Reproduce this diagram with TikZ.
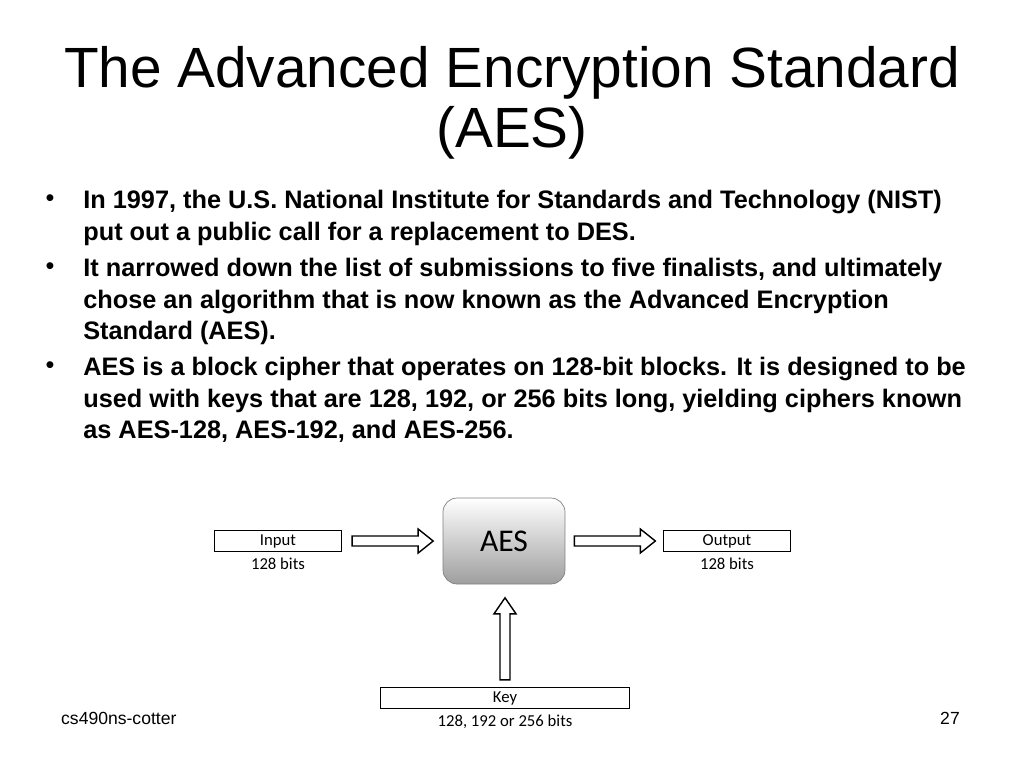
\documentclass[tikz,border=0pt]{standalone}
\usepackage{fontspec}
\setmainfont{Liberation Sans}
\newfontfamily\diafont{Carlito}
\usetikzlibrary{positioning,calc}
\definecolor{aesgray}{rgb}{0.62,0.62,0.62}

\begin{document}
\begin{tikzpicture}[x=0.02cm,y=-0.02cm,
    databox/.style={draw,thick,minimum width=2.54cm,minimum height=0.42cm,inner sep=0pt,font=\diafont\fontsize{9.5}{10}\selectfont},
    note/.style={font=\diafont\fontsize{9.5}{10}\selectfont,inner sep=0pt},
    bline/.style={font=\bfseries\fontsize{14.4}{18}\selectfont,align=left,anchor=north west,inner sep=0pt},
    hollow/.style={draw,thick,fill=white}]
\useasboundingbox (0,0) rectangle (1024,768);
%Title
    \node[font=\fontsize{32.3}{34.5}\selectfont,align=center] (title) at (512,103) {The Advanced Encryption Standard\\(AES)};
%Bullets
    \node[bline] (b1) at (83,190) {In 1997, the U.S. National Institute for Standards and Technology (NIST)\\put out a public call for a replacement to DES.};
    \node[bline] (b2) at (83,258) {It narrowed down the list of submissions to five finalists, and ultimately\\chose an algorithm that is now known as the Advanced Encryption\\Standard (AES).};
    \node[bline] (b3) at (83,357) {AES is a block cipher that operates on 128-bit blocks. It is designed to be\\used with keys that are 128, 192, or 256 bits long, yielding ciphers known\\as AES-128, AES-192, and AES-256.};
    \foreach \y in {201,269,368}
        \node[font=\fontsize{14.4}{15}\selectfont] at (50,\y) {•};
%Diagram
    \node[databox] (in) at (278,541) {Input};
    \node[note,below=3pt of in] (inbits) {128 bits};
    \node[databox] (out) at (727,541) {Output};
    \node[note,below=3pt of out] (outbits) {128 bits};
    \node[databox,minimum width=4.98cm] (key) at (505,698) {Key};
    \node[note,below=3pt of key] (keybits) {128, 192 or 256 bits};
    \node[draw=gray,rounded corners=8pt,top color=white,bottom color=aesgray,
          minimum width=2.44cm,minimum height=1.72cm,font=\diafont\fontsize{18}{19}\selectfont] (aes) at (504,541) {AES};
%Arrows
    \draw[hollow] ($(in.east)+(10,-5)$) -- ++(66,0) -- ++(0,-7) -- ++(15,12) -- ++(-15,12) -- ++(0,-7) -- ++(-66,0) -- cycle;
    \draw[hollow] ($(aes.east)+(9,-5)$) -- ++(66,0) -- ++(0,-7) -- ++(15,12) -- ++(-15,12) -- ++(0,-7) -- ++(-66,0) -- cycle;
    \draw[hollow] ($(key.north)+(-5,-7)$) -- ++(0,-66) -- ++(-6,0) -- ++(11,-16) -- ++(11,16) -- ++(-6,0) -- ++(0,66) -- cycle;
%Footer
    \node[font=\fontsize{10}{12}\selectfont,anchor=west] (course) at (55,718) {cs490ns-cotter};
    \node[font=\fontsize{10}{12}\selectfont] (page) at (950,718) {27};
\end{tikzpicture}
\end{document}
